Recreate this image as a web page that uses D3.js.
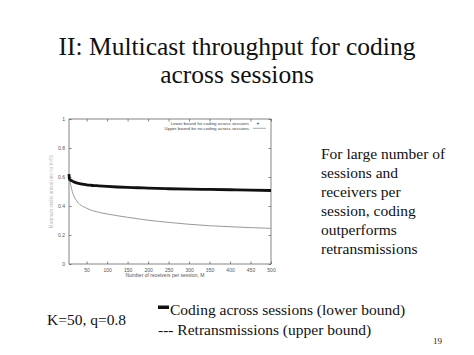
<!DOCTYPE html>
<html><head><meta charset="utf-8">
<script src="https://cdn.jsdelivr.net/npm/d3@7"></script>
<style>
html,body{margin:0;padding:0;background:#fff;}
svg{display:block;}
</style></head>
<body>
<svg id="c" width="474" height="355"></svg>
<script>
const titleLines = ["II: Multicast throughput for coding", "across sessions"];
const sideLines = ["For large number of", "sessions and", "receivers per", "session, coding", "outperforms", "retransmissions"];
const paramText = "K=50, q=0.8";
const noteLines = ["Coding across sessions (lower bound)", "--- Retransmissions (upper bound)"];
const pageNo = "19";

const seriesNames = ["Lower bound for coding across sessions", "Upper bound for no coding across sessions"];
const M = [7, 8, 10, 12, 15, 18, 22, 26, 30, 35, 40, 50, 60, 75, 100, 125, 150, 175, 200, 250, 300, 350, 400, 450, 500];
const lower = [0.62, 0.585, 0.58, 0.576, 0.572, 0.567, 0.563, 0.559, 0.556, 0.553, 0.551, 0.546, 0.543, 0.540, 0.535, 0.531, 0.528, 0.526, 0.523, 0.519, 0.516, 0.514, 0.512, 0.510, 0.507];
const upper = [0.585, 0.575, 0.56, 0.535, 0.5, 0.475, 0.45, 0.435, 0.42, 0.408, 0.398, 0.385, 0.372, 0.36, 0.345, 0.333, 0.322, 0.312, 0.302, 0.287, 0.274, 0.264, 0.257, 0.251, 0.246];
const xTicks = [50, 100, 150, 200, 250, 300, 350, 400, 450, 500];
const yTicks = [0, 0.2, 0.4, 0.6, 0.8, 1];
const xTitle = "Number of receivers per session, M";
const yTitle = "Maximum stable arrival rate for K=50";

const svg = d3.select("#c");
const SERIF = "Times New Roman";
const SANS = "Liberation Sans";

// title
svg.selectAll("text.title").data(titleLines).enter().append("text")
  .attr("class","title").attr("x",237).attr("y",(d,i)=>55+i*28)
  .attr("text-anchor","middle").attr("font-family",SERIF).attr("font-size",25.5)
  .attr("fill","#111").text(d=>d);

// plot
const L=69, R=271, T=119, B=264;
const x = d3.scaleLinear().domain([7,500]).range([L,R]);
const y = d3.scaleLinear().domain([0,1]).range([B,T]);
const g = svg.append("g");
g.append("rect").attr("x",L).attr("y",T).attr("width",R-L).attr("height",B-T)
  .attr("fill","none").attr("stroke","#666").attr("stroke-width",0.8);

const tickLen = 2.5;
const bx = d3.axisBottom(x).tickValues(xTicks).tickSize(-tickLen).tickPadding(4).tickFormat(d3.format("d"));
const tx = d3.axisTop(x).tickValues(xTicks).tickSize(-tickLen).tickFormat("");
const ly = d3.axisLeft(y).tickValues(yTicks).tickSize(-tickLen).tickPadding(4).tickFormat(d=>String(d));
const ry = d3.axisRight(y).tickValues(yTicks).tickSize(-tickLen).tickFormat("");
function style(sel){
  sel.attr("font-family",SANS).attr("font-size",5);
  sel.select(".domain").remove();
  sel.selectAll(".tick line").attr("stroke","#666").attr("stroke-width",0.8);
  sel.selectAll(".tick text").attr("fill","#555");
}
g.append("g").attr("transform",`translate(0,${B})`).call(bx).call(style);
g.append("g").attr("transform",`translate(0,${T})`).call(tx).call(style);
g.append("g").attr("transform",`translate(${L},0)`).call(ly).call(style);
g.append("g").attr("transform",`translate(${R},0)`).call(ry).call(style);

g.append("text").attr("x",(L+R)/2-5).attr("y",277).attr("text-anchor","middle")
  .attr("font-family",SANS).attr("font-size",5).attr("fill","#555").text(xTitle);
g.append("text").attr("transform",`translate(53,${(T+B)/2}) rotate(-90)`).attr("text-anchor","middle")
  .attr("font-family",SANS).attr("font-size",4.5).attr("fill","#bbb").text(yTitle);

const line = d3.line().x((d,i)=>x(M[i])).y(d=>y(d)).curve(d3.curveMonotoneX);
g.append("path").datum(upper).attr("d",line).attr("fill","none").attr("stroke","#999").attr("stroke-width",1);
g.append("path").datum(lower).attr("d",line).attr("fill","none").attr("stroke","#111").attr("stroke-width",2.8);

// legend
const lg = g.append("g");
lg.selectAll("text.lg").data(seriesNames).enter().append("text")
  .attr("class","lg").attr("x",249).attr("y",(d,i)=>125+i*4.5).attr("text-anchor","end")
  .attr("font-family",SANS).attr("font-size",4.4).attr("fill","#444").text(d=>d);
lg.append("text").attr("x",258).attr("y",125).attr("text-anchor","middle")
  .attr("font-family",SANS).attr("font-size",5).attr("fill","#222").text("+");
lg.append("line").attr("x1",253).attr("x2",266).attr("y1",128.3).attr("y2",128.3)
  .attr("stroke","#999").attr("stroke-width",0.8);

// side text
svg.selectAll("text.side").data(sideLines).enter().append("text")
  .attr("class","side").attr("x",321).attr("y",(d,i)=>159+i*19)
  .attr("font-family",SERIF).attr("font-size",15.5).attr("fill","#111").text(d=>d);

// bottom
svg.append("text").attr("x",47).attr("y",325).attr("font-family",SERIF).attr("font-size",15.5)
  .attr("fill","#111").text(paramText);
svg.append("rect").attr("x",158).attr("y",305.5).attr("width",11).attr("height",3.5).attr("fill","#111");
svg.append("text").attr("x",170).attr("y",315).attr("font-family",SERIF).attr("font-size",15.5)
  .attr("fill","#111").text(noteLines[0]);
svg.append("text").attr("x",158).attr("y",335).attr("font-family",SERIF).attr("font-size",15.5)
  .attr("fill","#111").text(noteLines[1]);
svg.append("text").attr("x",433).attr("y",344).attr("font-family",SERIF).attr("font-size",9)
  .attr("fill","#222").text(pageNo);
</script>
</body></html>
